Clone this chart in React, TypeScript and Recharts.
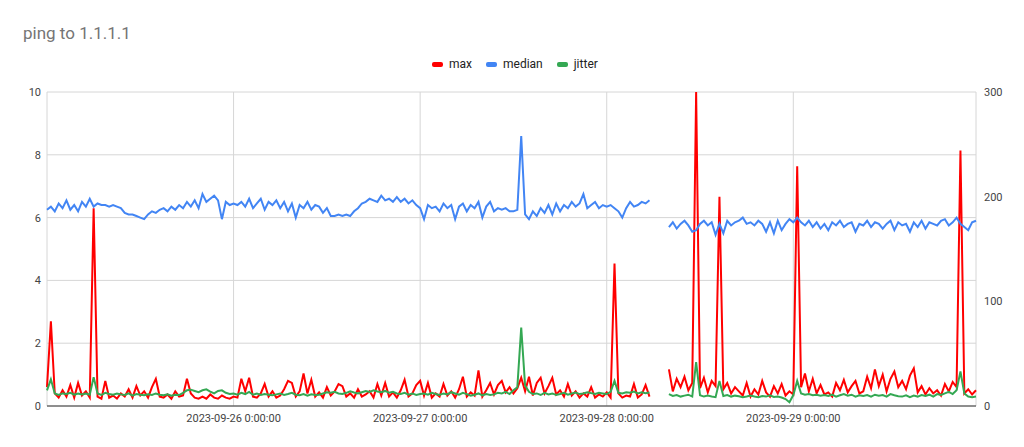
import React from 'react';
import { LineChart, Line, XAxis, YAxis, CartesianGrid } from 'recharts';

// samples every 30 min, starting 2023-09-25 0:00:00 (t in hours)
const STEP_HOURS = 0.5;

// median ping, ms (left axis)
const MEDIAN: (number | null)[] = [
  6.25, 6.35, 6.2, 6.45, 6.3, 6.55, 6.25, 6.4, 6.2, 6.5,
  6.35, 6.6, 6.35, 6.45, 6.4, 6.4, 6.35, 6.4, 6.35, 6.3,
  6.15, 6.1, 6.1, 6.05, 6.0, 5.95, 6.1, 6.2, 6.15, 6.25,
  6.3, 6.2, 6.35, 6.25, 6.4, 6.3, 6.5, 6.35, 6.55, 6.3,
  6.75, 6.5, 6.6, 6.7, 6.55, 5.95, 6.5, 6.4, 6.45, 6.4,
  6.5, 6.35, 6.6, 6.3, 6.45, 6.6, 6.25, 6.5, 6.4, 6.55,
  6.3, 6.5, 6.2, 6.45, 6.0, 6.4, 6.3, 6.5, 6.25, 6.4,
  6.35, 6.15, 6.3, 6.05, 6.05, 6.1, 6.05, 6.1, 6.05, 6.2,
  6.3, 6.45, 6.5, 6.6, 6.55, 6.5, 6.7, 6.55, 6.6, 6.5,
  6.65, 6.5, 6.6, 6.45, 6.55, 6.4, 6.3, 5.95, 6.4, 6.3,
  6.35, 6.2, 6.45, 6.3, 6.4, 5.95, 6.35, 6.45, 6.2, 6.4,
  6.3, 6.5, 6.0, 6.35, 6.5, 6.2, 6.3, 6.25, 6.3, 6.2,
  6.2, 6.25, 8.6, 6.1, 5.95, 6.2, 6.05, 6.3, 6.15, 6.4,
  6.1, 6.45, 6.2, 6.4, 6.3, 6.5, 6.35, 6.45, 6.75, 6.3,
  6.4, 6.5, 6.3, 6.4, 6.35, 6.4, 6.3, 6.2, 6.0, 6.3,
  6.5, 6.35, 6.4, 6.5, 6.45, 6.55, null, null, null, null,
  5.7, 5.85, 5.65, 5.8, 5.9, 5.75, 5.55, 5.6, 5.8, 5.9,
  5.75, 5.85, 5.45, 5.8, 5.5, 5.9, 5.75, 5.85, 5.9, 6.0,
  5.8, 5.85, 5.75, 5.9, 5.8, 5.55, 5.85, 5.5, 5.9, 5.6,
  5.8, 5.95, 5.85, 6.0, 5.85, 5.75, 5.9, 5.7, 5.85, 5.65,
  5.8, 5.6, 5.85, 5.75, 5.9, 5.7, 5.8, 5.85, 5.55, 5.8,
  5.75, 5.9, 5.7, 5.85, 5.8, 5.65, 5.8, 5.9, 5.6, 5.85,
  5.75, 5.8, 5.55, 5.85, 5.7, 5.9, 5.65, 5.85, 5.8, 5.75,
  5.9, 5.95, 5.75, 5.85, 6.0, 5.8, 5.7, 5.6, 5.85, 5.9,
];

// max ping, ms (right axis)
const MAX: (number | null)[] = [
  18, 81, 12, 8, 15, 9, 20, 8, 22, 10,
  14, 8, 189, 9, 7, 24, 8, 10, 7, 12,
  9, 16, 8, 19, 10, 14, 8, 18, 26, 9,
  8, 11, 7, 14, 9, 10, 26, 12, 8, 7,
  9, 7, 11, 8, 7, 10, 8, 7, 9, 8,
  26, 14, 27, 9, 8, 12, 21, 9, 14, 8,
  10, 16, 24, 22, 9, 14, 31, 12, 25, 9,
  13, 8, 18, 10, 14, 21, 19, 9, 12, 8,
  16, 9, 11, 14, 8, 21, 10, 22, 9, 13,
  8, 15, 25, 9, 12, 20, 24, 10, 22, 8,
  12, 9, 21, 10, 14, 8, 16, 28, 9, 13,
  10, 34, 9, 15, 22, 11, 20, 24, 13, 18,
  12, 17, 27, 14, 28, 10, 22, 27, 12, 19,
  27, 11, 15, 9, 21, 10, 14, 8, 12, 9,
  18, 8, 11, 9, 13, 8, 136, 12, 8, 10,
  9, 21, 8, 11, 20, 9, null, null, null, null,
  35, 14, 26, 18, 28, 15, 22, 300, 17, 27,
  13, 24, 19, 200, 16, 22, 12, 18, 14, 10,
  22, 9, 16, 11, 24, 13, 9, 19, 12, 21,
  10, 14, 11, 229, 18, 31, 14, 26, 12, 20,
  11, 13, 9, 22, 15, 25, 13, 19, 24, 12,
  14, 28, 17, 35, 19, 30, 14, 26, 33, 18,
  24, 16, 29, 36, 13, 19, 11, 17, 12, 15,
  10, 21, 14, 23, 18, 244, 12, 16, 11, 15,
];

// jitter, ms (left axis)
const JITTER: (number | null)[] = [
  0.5, 0.85, 0.4, 0.35, 0.4, 0.38, 0.42, 0.36, 0.4, 0.37,
  0.4, 0.36, 0.92, 0.4, 0.35, 0.42, 0.38, 0.36, 0.4, 0.37,
  0.35, 0.4, 0.33, 0.38, 0.36, 0.34, 0.37, 0.35, 0.4, 0.36,
  0.34, 0.37, 0.33, 0.36, 0.35, 0.42, 0.5, 0.52, 0.48, 0.44,
  0.5, 0.53, 0.46, 0.4, 0.48, 0.5, 0.42, 0.38, 0.4, 0.36,
  0.42, 0.38, 0.45, 0.36, 0.4, 0.35, 0.38, 0.36, 0.34, 0.37,
  0.4, 0.35, 0.38, 0.42, 0.36, 0.34, 0.38, 0.33, 0.37, 0.35,
  0.36, 0.4, 0.44, 0.42, 0.45, 0.4, 0.38, 0.42, 0.47, 0.43,
  0.4, 0.44, 0.48, 0.45, 0.5, 0.46, 0.44, 0.48, 0.42, 0.45,
  0.4, 0.38, 0.42, 0.36, 0.4, 0.35, 0.38, 0.4, 0.36, 0.42,
  0.38, 0.35, 0.4, 0.37, 0.44, 0.4, 0.36, 0.42, 0.38, 0.33,
  0.36, 0.4, 0.34, 0.38, 0.35, 0.37, 0.42, 0.4, 0.45, 0.38,
  0.5, 0.6, 2.5, 0.65, 0.45, 0.38, 0.4, 0.35, 0.42, 0.37,
  0.4, 0.35, 0.38, 0.42, 0.36, 0.4, 0.43, 0.38, 0.4, 0.44,
  0.41, 0.38, 0.42, 0.4, 0.38, 0.45, 0.8, 0.42, 0.4, 0.44,
  0.42, 0.46, 0.4, 0.44, 0.41, 0.43, null, null, null, null,
  0.38, 0.32, 0.35, 0.3, 0.33, 0.36, 0.3, 1.4, 0.34, 0.3,
  0.33, 0.3, 0.28, 0.8, 0.32, 0.35, 0.3, 0.33, 0.31, 0.28,
  0.3, 0.33, 0.3, 0.28, 0.32, 0.3, 0.34, 0.29, 0.3, 0.27,
  0.22, 0.12, 0.35, 0.8, 0.4, 0.36, 0.38, 0.34, 0.36, 0.33,
  0.35, 0.32, 0.36, 0.3, 0.34, 0.38, 0.33, 0.36, 0.3, 0.34,
  0.32, 0.35, 0.3, 0.36, 0.33, 0.35, 0.3, 0.38, 0.34, 0.31,
  0.3, 0.34, 0.28, 0.33, 0.3, 0.35, 0.32, 0.36, 0.3, 0.38,
  0.35, 0.4, 0.45, 0.38, 0.5, 1.1, 0.4, 0.3, 0.28, 0.3,
];

const X_TICKS = [0, 24, 48, 72, 96];
const X_TICK_LABELS = ['', '2023-09-26 0:00:00', '2023-09-27 0:00:00', '2023-09-28 0:00:00', '2023-09-29 0:00:00'];
const LEFT_TICKS = [0, 2, 4, 6, 8, 10];
const RIGHT_TICKS = [0, 100, 200, 300];

const SERIES = [
  { key: 'max', name: 'max', color: '#ff0000', axis: 'right' },
  { key: 'median', name: 'median', color: '#4285f4', axis: 'left' },
  { key: 'jitter', name: 'jitter', color: '#34a853', axis: 'left' },
];

const data = MEDIAN.map((m, i) => ({
  t: i * STEP_HOURS,
  median: m,
  max: MAX[i],
  jitter: JITTER[i],
}));

const FONT = 'Roboto, Arial, sans-serif';
const tickStyle = { fontSize: 11, fill: '#444444', fontFamily: FONT };

export default function App() {
  return (
    <div style={{ position: 'relative', width: 1024, height: 447, background: '#fff', fontFamily: FONT }}>
      <style>{'body{margin:0}'}</style>
      <div style={{ position: 'absolute', left: 23, top: 23, fontSize: 17, color: '#757575' }}>
        ping to 1.1.1.1
      </div>
      <div style={{ position: 'absolute', left: 432, top: 57, display: 'flex', alignItems: 'center', fontSize: 12, color: '#222' }}>
        {SERIES.map((s) => (
          <div key={s.key} style={{ display: 'flex', alignItems: 'center', marginRight: 14 }}>
            <div style={{ width: 11, height: 5, borderRadius: 2, background: s.color, marginRight: 6 }} />
            <span>{s.name}</span>
          </div>
        ))}
      </div>
      <LineChart width={1024} height={447} data={data} margin={{ top: 92, right: 0, bottom: 11, left: 0 }}>
        <CartesianGrid stroke="#d6d6d6" yAxisId="left" />
        <XAxis
          dataKey="t"
          type="number"
          domain={[0, 119.5]}
          ticks={X_TICKS}
          interval={0}
          tickFormatter={(v: number) => X_TICK_LABELS[X_TICKS.indexOf(v)] ?? ''}
          tick={tickStyle}
          tickLine={false}
          tickSize={0}
          tickMargin={8}
          axisLine={{ stroke: '#333333' }}
          height={30}
        />
        <YAxis
          yAxisId="left"
          domain={[0, 10]}
          ticks={LEFT_TICKS}
          interval={0}
          tick={tickStyle}
          tickLine={false}
          tickSize={0}
          tickMargin={6}
          axisLine={false}
          width={47}
        />
        <YAxis
          yAxisId="right"
          orientation="right"
          domain={[0, 300]}
          ticks={RIGHT_TICKS}
          interval={0}
          tick={tickStyle}
          tickLine={false}
          tickSize={0}
          tickMargin={8}
          axisLine={false}
          width={48}
          allowDataOverflow
        />
        {SERIES.map((s) => (
          <Line
            key={s.key}
            yAxisId={s.axis}
            dataKey={s.key}
            name={s.name}
            type="linear"
            stroke={s.color}
            strokeWidth={2}
            dot={false}
            activeDot={false}
            isAnimationActive={false}
          />
        ))}
      </LineChart>
    </div>
  );
}
